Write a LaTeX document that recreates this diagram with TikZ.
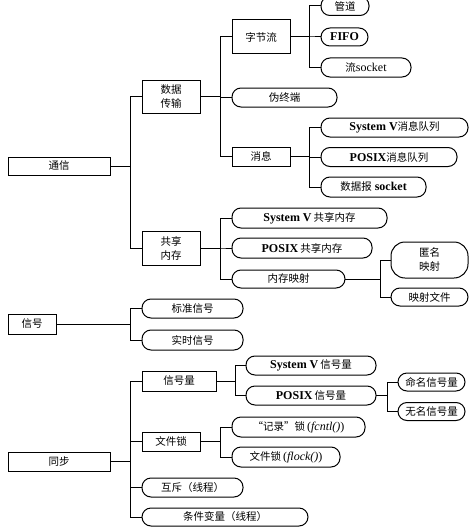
\documentclass[tikz,border=0pt]{standalone}
\usepackage{fontspec}
\setmainfont{Liberation Serif}
\newfontfamily\cjk{Noto Sans CJK SC}
\newcommand\zh[1]{{\cjk\fontsize{10.5}{14}\selectfont #1}}
\begin{document}
\begin{tikzpicture}[x=1pt,y=-1pt,
  every node/.style={inner sep=0pt,outer sep=0pt,line width=1pt,font=\fontsize{12}{14}\selectfont,align=center},
  rbox/.style={draw,rectangle},
  sbox/.style={draw,rounded corners=9pt},
  link/.style={draw,line width=1pt}]
\useasboundingbox[fill=white] (0,0) rectangle (474,527);
% level 0
\node[rbox,minimum width=102pt,minimum height=18pt] (tx) at (59,166) {\zh{通信}};
\node[rbox,minimum width=48pt,minimum height=20pt] (xh) at (32,324) {\zh{信号}};
\node[rbox,minimum width=102pt,minimum height=19pt] (tb) at (59,461.5) {\zh{同步}};
% level 1
\node[rbox,minimum width=58pt,minimum height=33pt] (sj) at (171,96.5) {\zh{数据}\\\zh{传输}};
\node[rbox,minimum width=58pt,minimum height=34pt] (gx) at (171,248) {\zh{共享}\\\zh{内存}};
\node[sbox,minimum width=101pt,minimum height=19pt] (bz) at (192.5,308.5) {\zh{标准信号}};
\node[sbox,minimum width=101pt,minimum height=20pt] (ss) at (192.5,340) {\zh{实时信号}};
\node[rbox,minimum width=74pt,minimum height=20pt] (xhl) at (179,381) {\zh{信号量}};
\node[rbox,minimum width=58pt,minimum height=19pt] (wjs) at (171,441.5) {\zh{文件锁}};
\node[sbox,minimum width=101pt,minimum height=19pt] (hc) at (192.5,487.5) {\zh{互斥（线程）}};
\node[sbox,minimum width=166pt,minimum height=18pt] (tj) at (225,517) {\zh{条件变量（线程）}};
% level 2
\node[rbox,minimum width=58pt,minimum height=34pt] (zj) at (261,37) {\zh{字节流}};
\node[sbox,minimum width=105pt,minimum height=19pt] (wz) at (284.5,97.5) {\zh{伪终端}};
\node[rbox,minimum width=58pt,minimum height=19pt] (xx) at (261,156.5) {\zh{消息}};
\node[sbox,minimum width=155pt,minimum height=20pt] (sv2) at (309.5,218) {\textbf{System V}\,\zh{共享内存}};
\node[sbox,minimum width=140pt,minimum height=20pt] (px2) at (302,248) {\textbf{POSIX}\,\zh{共享内存}};
\node[sbox,minimum width=113pt,minimum height=18pt] (nc) at (288.5,279) {\zh{内存映射}};
\node[sbox,minimum width=130pt,minimum height=19pt] (sv3) at (311,365.5) {\textbf{System V}\,\zh{信号量}};
\node[sbox,minimum width=130pt,minimum height=19pt] (px3) at (311,395.5) {\textbf{POSIX}\,\zh{信号量}};
\node[sbox,minimum width=133pt,minimum height=20pt] (jl) at (298.5,427) {\zh{“记录”锁}\,(\textit{fcntl()})};
\node[sbox,minimum width=108pt,minimum height=20pt] (fl) at (286,457) {\zh{文件锁}\,(\textit{flock()})};
% level 3
\node[sbox,minimum width=48pt,minimum height=19pt] (gd) at (345,6) {\zh{管道}};
\node[sbox,minimum width=47pt,minimum height=18pt] (fifo) at (344.5,37) {\textbf{FIFO}};
\node[sbox,minimum width=90pt,minimum height=19pt] (ls) at (366,67.5) {\zh{流}socket};
\node[sbox,minimum width=147pt,minimum height=19pt] (sv1) at (394.5,127.5) {\textbf{System V}\zh{消息队列}};
\node[sbox,minimum width=136pt,minimum height=19pt] (px1) at (389,157) {\textbf{POSIX}\zh{消息队列}};
\node[sbox,minimum width=105pt,minimum height=20pt] (sjb) at (373.5,187) {\zh{数据报} \textbf{socket}};
\node[sbox,rounded corners=14pt,minimum width=77pt,minimum height=36pt] (nm) at (429.5,260) {\zh{匿名}\\\zh{映射}};
\node[sbox,minimum width=77pt,minimum height=18pt] (ys) at (429.5,297) {\zh{映射文件}};
\node[sbox,minimum width=67pt,minimum height=18pt] (mm) at (431.5,382) {\zh{命名信号量}};
\node[sbox,minimum width=67pt,minimum height=18pt] (wm) at (431.5,411.5) {\zh{无名信号量}};
% connectors
\foreach \c in {sj,gx} \path[link] (tx.east) -- ++(20,0) |- (\c.west);
\foreach \c in {zj,wz,xx} \path[link] (sj.east) -- ++(20,0) |- (\c.west);
\foreach \c in {gd,fifo,ls} \path[link] (zj.east) -- ++(19,0) |- (\c.west);
\foreach \c in {sv1,px1,sjb} \path[link] (xx.east) -- ++(19,0) |- (\c.west);
\foreach \c in {sv2,px2,nc} \path[link] (gx.east) -- ++(20,0) |- (\c.west);
\foreach \c in {nm,ys} \path[link] (nc.east) -- ++(35,0) |- (\c.west);
\foreach \c in {bz,ss} \path[link] (xh.east) -- ++(74,0) |- (\c.west);
\foreach \c in {xhl,wjs,hc,tj} \path[link] (tb.east) -- ++(20,0) |- (\c.west);
\foreach \c in {sv3,px3} \path[link] (xhl.east) -- ++(19,0) |- (\c.west);
\foreach \c in {mm,wm} \path[link] (px3.east) -- ++(11,0) |- (\c.west);
\foreach \c in {jl,fl} \path[link] (wjs.east) -- ++(20,0) |- (\c.west);
\end{tikzpicture}
\end{document}
